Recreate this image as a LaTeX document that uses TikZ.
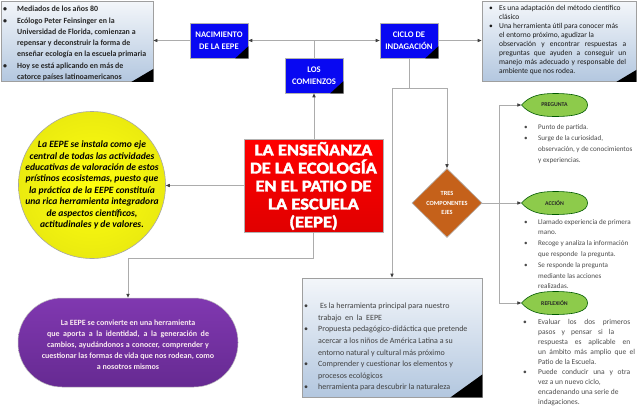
\documentclass[tikz,border=0pt]{standalone}
\usepackage{fontspec}
\setmainfont{Carlito}
\newfontfamily\heavy{Carlito Bold}[FakeBold=2.6,FakeStretch=1.12]
\usetikzlibrary{arrows.meta,shapes.geometric,calc}
\definecolor{bluebx}{HTML}{0808F2}
\definecolor{lbtop}{HTML}{F3F6FA}
\definecolor{lbbot}{HTML}{B3C7DF}
\definecolor{purtop}{HTML}{8038B0}
\definecolor{purbot}{HTML}{662A92}
\definecolor{orng}{HTML}{C5611A}
\definecolor{leafg}{HTML}{8DCB4B}
\definecolor{yell}{HTML}{FFFF10}
\newcommand\fs[2]{\fontsize{#1}{#2}\selectfont}
\newcommand\bl[1]{\makebox[#1][l]{•}}
\newcommand\ind[1]{\hspace*{#1}}
\newcommand\jl[2]{\makebox[#1][s]{#2}}
\newcommand\cornertri[3]{\fill[black] (#1.south east) -- ++(-#2,0) -- ++(#2,-#3) -- cycle;}
\tikzset{
 conn/.style={draw=gray!65, line width=0.8pt},
 arr/.style={conn, -{Triangle[length=4pt,width=3.2pt,color=black!75]}},
 lbox/.style={draw=gray!75, line width=0.8pt, top color=lbtop, bottom color=lbbot, inner sep=0},
 bbox/.style={draw=gray!60, line width=0.6pt, fill=bluebx, text=white, font=\bfseries\fs{8.6}{12}, align=center, minimum width=58, minimum height=35, inner sep=0},
 txt/.style={inner sep=0, align=left},
 leafst/.style={draw=green!35!black, line width=0.6pt, fill=leafg},
 leaflbl/.style={font=\bfseries\fs{5.8}{7}, text=black!85, minimum width=66, minimum height=23, inner sep=0},
}
\newcommand\leafshape[2]{%
\begin{scope}[shift={(#1,#2)}]
\draw[leafst] (-33,0) .. controls (-25,-9) and (-15,-11.5) .. (0,-11.5) .. controls (22,-11.5) and (33,-8) .. (33,0) .. controls (33,8) and (22,11.5) .. (0,11.5) .. controls (-15,11.5) and (-25,9) .. (-33,0) -- cycle;
\end{scope}}
\begin{document}
\begin{tikzpicture}[x=1pt,y=-1pt]
\useasboundingbox (0,0) rectangle (640,408);
\fill[white] (0,0) rectangle (640,408);

% top boxes
\node[lbox, minimum width=152, minimum height=80] (tl) at (77,41.5) {};
\cornertri{tl}{22}{13}
\node[txt, anchor=north west, font=\bfseries\fs{7.9}{11.3}, text=black!85] (tltxt) at (3,6) {%
\bl{14pt}Mediados de los años 80\\
\bl{14pt}Ecólogo Peter Feinsinger en la\\
\ind{14pt}Universidad de Florida, comienzan a\\
\ind{14pt}repensar y deconstruir la forma de\\
\ind{14pt}enseñar ecología en la escuela primaria\\
\bl{14pt}Hoy se está aplicando en más de\\
\ind{14pt}catorce países latinoamericanos};

\node[lbox, minimum width=154, minimum height=80] (tr) at (559,41.5) {};
\cornertri{tr}{20}{12}
\node[txt, anchor=north west, font=\fs{7.5}{9}, text=black!90] (trtxt) at (489,5) {%
\bl{10pt}Es una adaptación del método científico\\
\ind{10pt}clásico\\
\bl{10pt}Una herramienta útil para conocer más\\
\ind{10pt}el entorno próximo, agudizar la\\
\ind{10pt}\jl{127pt}{observación y encontrar respuestas a}\\
\ind{10pt}\jl{127pt}{preguntas que ayuden a conseguir un}\\
\ind{10pt}\jl{127pt}{manejo más adecuado y responsable del}\\
\ind{10pt}ambiente que nos rodea.};

% blue boxes
\node[bbox] (nac) at (219,40.5) {NACIMIENTO\\DE LA EEPE};
\cornertri{nac}{13}{12}
\node[bbox] (com) at (314,75.5) {LOS\\COMIENZOS};
\cornertri{com}{13}{12}
\node[bbox] (cic) at (409,40.5) {CICLO DE\\INDAGACIÓN};
\cornertri{cic}{13}{12}

% red box
\node[draw=gray!60, line width=0.6pt, top color=red, bottom color=red!88!black, minimum width=139, minimum height=93, inner sep=0] (red) at (313.5,185.5) {};
\node[text=white, font=\heavy\fs{16.5}{18}, align=center, inner sep=0] (redtxt) at (313.5,186) {LA ENSEÑANZA\\DE LA ECOLOGÍA\\EN EL PATIO DE\\LA ESCUELA\\(EEPE)};

% yellow circle
\node[circle, draw=gray!70, line width=0.6pt, inner color=yell, outer color=yell!92!black, minimum size=147, inner sep=0] (circ) at (92,185) {};
\node[align=center, inner sep=0, font=\bfseries\itshape\fs{9.6}{11.4}] (circtxt) at (92,185) {La EEPE se instala como eje\\central de todas las actividades\\educativas de valoración de estos\\prístinos ecosistemas, puesto que\\la práctica de la EEPE constituía\\una rica herramienta integradora\\de aspectos científicos,\\actitudinales y de valores.};

% purple pill
\node[rounded corners=44pt, draw=gray!50, line width=0.5pt, top color=purtop, bottom color=purbot, minimum width=220, minimum height=89, inner sep=0] (pur) at (128,342.5) {};
\node[align=center, inner sep=0, text=white!92!purple, font=\bfseries\fs{8}{10.9}] (purtxt) at (128,345) {La EEPE se convierte en una herramienta\\\jl{162pt}{que aporta a la identidad, a la generación de}\\\jl{162pt}{cambios, ayudándonos a conocer, comprender y}\\cuestionar las formas de vida que nos rodean, como\\a nosotros mismos};

% bottom box
\node[lbox, minimum width=180, minimum height=119] (bot) at (392,337.5) {};
\cornertri{bot}{32}{23}
\node[txt, anchor=north west, font=\fs{8}{11.6}, text=black!75] (bottxt) at (304,303) {%
\bl{14pt}\ Es la herramienta principal para nuestro\\
\ind{14pt}trabajo\ \ en\ \ la\ \ EEPE\\
\bl{14pt}Propuesta pedagógico-didáctica que pretende\\
\ind{14pt}acercar a los niños de América Latina a su\\
\ind{14pt}entorno natural y cultural más próximo\\
\bl{14pt}Comprender y cuestionar los elementos y\\
\ind{14pt}procesos ecológicos\\
\bl{14pt}herramienta\ para\ descubrir\ la\ naturaleza};

% diamond
\node[diamond, draw=gray!60, line width=0.6pt, fill=orng, minimum width=70, minimum height=69, inner sep=0] (dia) at (447,203) {};
\node[align=center, inner sep=0, text=white, font=\bfseries\fs{6.3}{9.5}] (diatxt) at (447,203) {TRES\\COMPONENTES\\EJES};

% leaves
\leafshape{554.5}{105}
\leafshape{554.5}{203}
\leafshape{554.5}{303}
\node[leaflbl] (preg) at (554.5,105) {PREGUNTA};
\node[leaflbl] (acc) at (554.5,203) {ACCIÓN};
\node[leaflbl] (refl) at (554.5,303) {REFLEXIÓN};

\node[txt, anchor=north west, font=\fs{7.1}{11}, text=black!70] (pregtxt) at (524,124) {%
\bl{14pt}Punto de partida.\\
\bl{14pt}Surge de la curiosidad,\\
\ind{14pt}observación, y de conocimientos\\
\ind{14pt}y experiencias.};
\node[txt, anchor=north west, font=\fs{7.1}{10.8}, text=black!70] (acctxt) at (524,219) {%
\bl{14pt}Llamado experiencia de primera\\
\ind{14pt}mano.\\
\bl{14pt}Recoge y analiza la información\\
\ind{14pt}que responde\ \ la pregunta.\\
\bl{14pt}Se responde la pregunta\\
\ind{14pt}mediante las acciones\\
\ind{14pt}realizadas.};
\node[txt, anchor=north west, font=\fs{7.5}{10}, text=black!70] (refltxt) at (523,319) {%
\bl{15pt}\jl{92pt}{Evaluar los dos primeros}\\
\ind{15pt}\jl{76pt}{pasos y pensar si la}\\
\ind{15pt}\jl{92pt}{respuesta es aplicable en}\\
\ind{15pt}\jl{97pt}{un ámbito más amplio que el}\\
\ind{15pt}Patio de la Escuela.\\
\bl{15pt}\jl{92pt}{Puede conducir una y otra}\\
\ind{15pt}vez a un nuevo ciclo,\\
\ind{15pt}encadenando una serie de\\
\ind{15pt}indagaciones.};

% connectors
\coordinate (j1) at (com.north |- nac.east);
\draw[conn] (com.north) -- (j1);
\draw[arr] (j1) -- (nac.east);
\draw[arr] (j1) -- (cic.west);
\draw[arr] (nac.west) -- (nac.west -| tl.east);
\draw[arr] (cic.east) -- (cic.east -| tr.west);
\draw[arr] (red.north -| com.south) -- (com.south);
\draw[arr] (red.west) -- (red.west -| circ.east);
\coordinate (j2) at ($(red.south)+(0,26)$);
\draw[arr] (red.south) -- (j2) -| (pur.north);
\coordinate (j3) at ($(cic.south)+(0,30)$);
\draw[conn] (cic.south) -- (j3);
\draw[arr] (j3) -| (bot.north);
\draw[arr] (j3) -| (dia.north);
\coordinate (v) at (499,203);
\draw[arr] (dia.east) -- (acc.west);
\draw[arr] (v) |- (preg.west);
\draw[arr] (v) |- (refl.west);
\end{tikzpicture}
\end{document}
